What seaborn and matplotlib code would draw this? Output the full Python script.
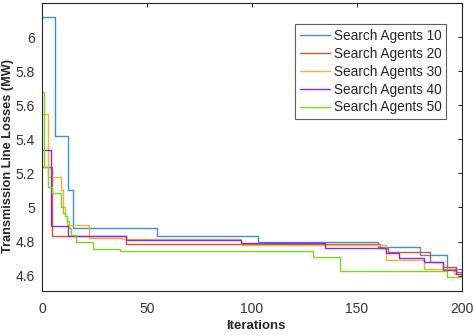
import numpy as np
import pandas as pd
import matplotlib
matplotlib.use("Agg")
import matplotlib.pyplot as plt
from matplotlib.ticker import FuncFormatter
import seaborn as sns

# Best-so-far transmission losses (MW): iteration where the value changes, new value
it_10 = [0, 6, 12.5, 15, 55, 103, 160, 180, 193, 200]
val_10 = [6.12, 5.42, 5.10, 4.88, 4.83, 4.80, 4.77, 4.72, 4.64, 4.61]

it_20 = [0, 5, 40, 161, 165, 185, 191, 197, 200]
val_20 = [5.24, 4.835, 4.785, 4.76, 4.74, 4.68, 4.65, 4.62, 4.60]

it_30 = [0, 3, 9, 10, 11, 12, 22.5, 38, 95, 164, 182, 196, 200]
val_30 = [5.55, 5.18, 5.10, 5.00, 4.95, 4.90, 4.82, 4.815, 4.78, 4.69, 4.64, 4.61, 4.60]

it_40 = [0, 4.5, 12.5, 40, 95, 135, 164, 170, 182, 191, 197, 200]
val_40 = [5.34, 4.89, 4.835, 4.81, 4.79, 4.765, 4.735, 4.705, 4.68, 4.635, 4.61, 4.60]

it_50 = [0, 1, 3, 5, 9, 10, 11, 12, 13, 14, 16, 24.5, 37, 129, 142, 193, 200]
val_50 = [5.68, 5.24, 5.12, 5.085, 5.00, 4.97, 4.95, 4.92, 4.88, 4.84, 4.80,
          4.757, 4.745, 4.71, 4.625, 4.59, 4.59]

series_names = ["Search Agents 10", "Search Agents 20", "Search Agents 30",
                "Search Agents 40", "Search Agents 50"]
x_ticks = [0, 50, 100, 150, 200]
y_ticks = [4.6, 4.8, 5.0, 5.2, 5.4, 5.6, 5.8, 6.0]

frames = []
for name, its, vals in zip(series_names,
                           [it_10, it_20, it_30, it_40, it_50],
                           [val_10, val_20, val_30, val_40, val_50]):
    frames.append(pd.DataFrame({"Iterations": its, "Losses": vals, "Series": name}))
df = pd.concat(frames, ignore_index=True)

palette = ["#3D8FE0", "#E2522A", "#F2B531", "#8A2BE2", "#7ED321"]

sns.set_style("white")
plt.rcParams["font.family"] = ["Liberation Sans", "DejaVu Sans"]

fig = plt.figure(figsize=(4.74, 3.36), dpi=100)
ax = fig.add_axes([0.0886, 0.134, 0.886, 0.857])

sns.lineplot(data=df, x="Iterations", y="Losses", hue="Series", palette=palette,
             estimator=None, sort=True, drawstyle="steps-post", linewidth=1.0,
             ax=ax)

ax.set_xlim(0, 200)
ax.set_ylim(4.51, 6.2)
ax.set_xticks(x_ticks)
ax.set_yticks(y_ticks)
ax.yaxis.set_major_formatter(FuncFormatter(lambda v, p: f"{v:g}"))
ax.tick_params(direction="in", length=3, width=0.8, colors="#262626",
               labelsize=10, top=True, right=True, labeltop=False, labelright=False)
ax.tick_params(axis="x", pad=8)
ax.tick_params(axis="y", pad=5)
for tl in ax.get_xticklabels() + ax.get_yticklabels():
    tl.set_color("#333333")
for sp in ax.spines.values():
    sp.set_color("#262626")
    sp.set_linewidth(0.8)

ax.set_xlabel("Iterations", fontsize=9.5, fontweight="bold")
ax.set_ylabel("Transmission Line Losses (MW)", fontsize=9.2, fontweight="bold")
ax.xaxis.set_label_coords(0.51, -0.102)
ax.yaxis.set_label_coords(-0.066, 0.47)

leg = ax.legend(loc="upper right", bbox_to_anchor=(0.972, 0.94), fontsize=9.8,
                frameon=True, fancybox=False, handlelength=2.2, handletextpad=0.25,
                labelspacing=0.28, borderpad=0.35, borderaxespad=0.3)
leg.get_frame().set_edgecolor("#333333")
leg.get_frame().set_linewidth(0.8)
for line in leg.get_lines():
    line.set_linewidth(1.0)

fig.savefig("out.png", dpi=100)
